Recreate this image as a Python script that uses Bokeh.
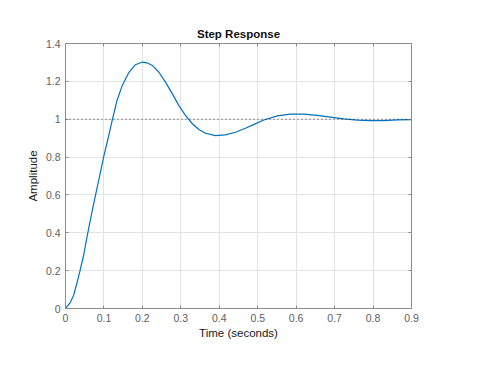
from bokeh.plotting import figure
from bokeh.models import LinearAxis, Range1d, FixedTicker, Span, CustomJSTickFormatter
from bokeh.embed import file_html
from bokeh.resources import INLINE

# step response samples
t_vals = [0.0, 0.002, 0.012, 0.021, 0.029, 0.038, 0.047, 0.055, 0.064, 0.073,
          0.081, 0.089, 0.100, 0.113, 0.121, 0.134, 0.147, 0.165, 0.182, 0.2,
          0.212, 0.226, 0.243, 0.260, 0.278, 0.295, 0.312, 0.330, 0.347, 0.364,
          0.390, 0.416, 0.442, 0.468, 0.492, 0.516, 0.551, 0.585, 0.620, 0.655,
          0.689, 0.724, 0.759, 0.793, 0.828, 0.863, 0.9]
y_vals = [0.0, 0.006, 0.030, 0.069, 0.128, 0.201, 0.280, 0.368, 0.462, 0.550,
          0.627, 0.702, 0.808, 0.918, 0.990, 1.099, 1.175, 1.248, 1.288, 1.302,
          1.298, 1.284, 1.248, 1.196, 1.134, 1.072, 1.020, 0.976, 0.946, 0.926,
          0.913, 0.917, 0.931, 0.952, 0.974, 0.996, 1.018, 1.027, 1.027, 1.020,
          1.011, 1.002, 0.995, 0.993, 0.993, 0.997, 0.998]
steady_state = 1.0

x_ticks = [0, 0.1, 0.2, 0.3, 0.4, 0.5, 0.6, 0.7, 0.8, 0.9]
x_labels = ["0", "0.1", "0.2", "0.3", "0.4", "0.5", "0.6", "0.7", "0.8", "0.9"]
y_ticks = [0, 0.2, 0.4, 0.6, 0.8, 1.0, 1.2, 1.4]
y_labels = ["0", "0.2", "0.4", "0.6", "0.8", "1", "1.2", "1.4"]

FONT = "Liberation Sans"
AX = "#8c8c8c"
TICKTXT = "#606060"

p = figure(width=470, height=360, output_backend="svg", toolbar_location=None,
           x_range=Range1d(0, 0.9), y_range=Range1d(0, 1.4),
           x_axis_label="Time (seconds)", y_axis_label="Amplitude",
           min_border_left=65, min_border_right=59, min_border_top=43, min_border_bottom=52,
           title="Step Response")
p.title.align = "center"
p.title.text_font = FONT
p.title.text_font_size = "11.5px"
p.title.text_font_style = "bold"
p.title.text_color = "#111111"
p.title.offset = 0
p.title.standoff = 8

p.background_fill_color = "white"
p.border_fill_color = "white"
p.outline_line_color = AX
p.outline_line_width = 1

p.xaxis.ticker = FixedTicker(ticks=x_ticks)
p.yaxis.ticker = FixedTicker(ticks=y_ticks)
p.xaxis.major_label_overrides = {k: v for k, v in zip(x_ticks, x_labels)}
p.yaxis.major_label_overrides = {k: v for k, v in zip(y_ticks, y_labels)}

for ax in (p.xaxis, p.yaxis):
    ax.axis_line_color = AX
    ax.major_tick_line_color = AX
    ax.major_tick_in = 3
    ax.major_tick_out = 0
    ax.minor_tick_line_color = None
    ax.major_label_text_font = FONT
    ax.major_label_text_font_size = "10.5px"
    ax.major_label_text_color = TICKTXT
    ax.axis_label_text_font = FONT
    ax.axis_label_text_font_size = "11.5px"
    ax.axis_label_text_font_style = "normal"
    ax.axis_label_text_color = "#1a1a1a"
p.xaxis.major_label_standoff = 5
p.xaxis.axis_label_standoff = 2
p.yaxis.major_label_standoff = 5
p.yaxis.axis_label_standoff = 4

blank = CustomJSTickFormatter(code="return '';")
for side in ("right", "above"):
    a = LinearAxis(ticker=FixedTicker(ticks=x_ticks if side == "above" else y_ticks),
                   formatter=blank, axis_line_color=AX,
                   major_tick_line_color=AX, major_tick_in=3, major_tick_out=0,
                   minor_tick_line_color=None, major_label_standoff=0)
    p.add_layout(a, side)

p.grid.grid_line_color = "#e3e3e3"
p.grid.grid_line_width = 1

p.add_layout(Span(location=steady_state, dimension="width", line_color="#333333",
                  line_dash="1 3", line_width=1))

p.line(t_vals, y_vals, line_color="#0072BD", line_width=1.2)

open("out.html", "w").write(file_html(p, INLINE))
